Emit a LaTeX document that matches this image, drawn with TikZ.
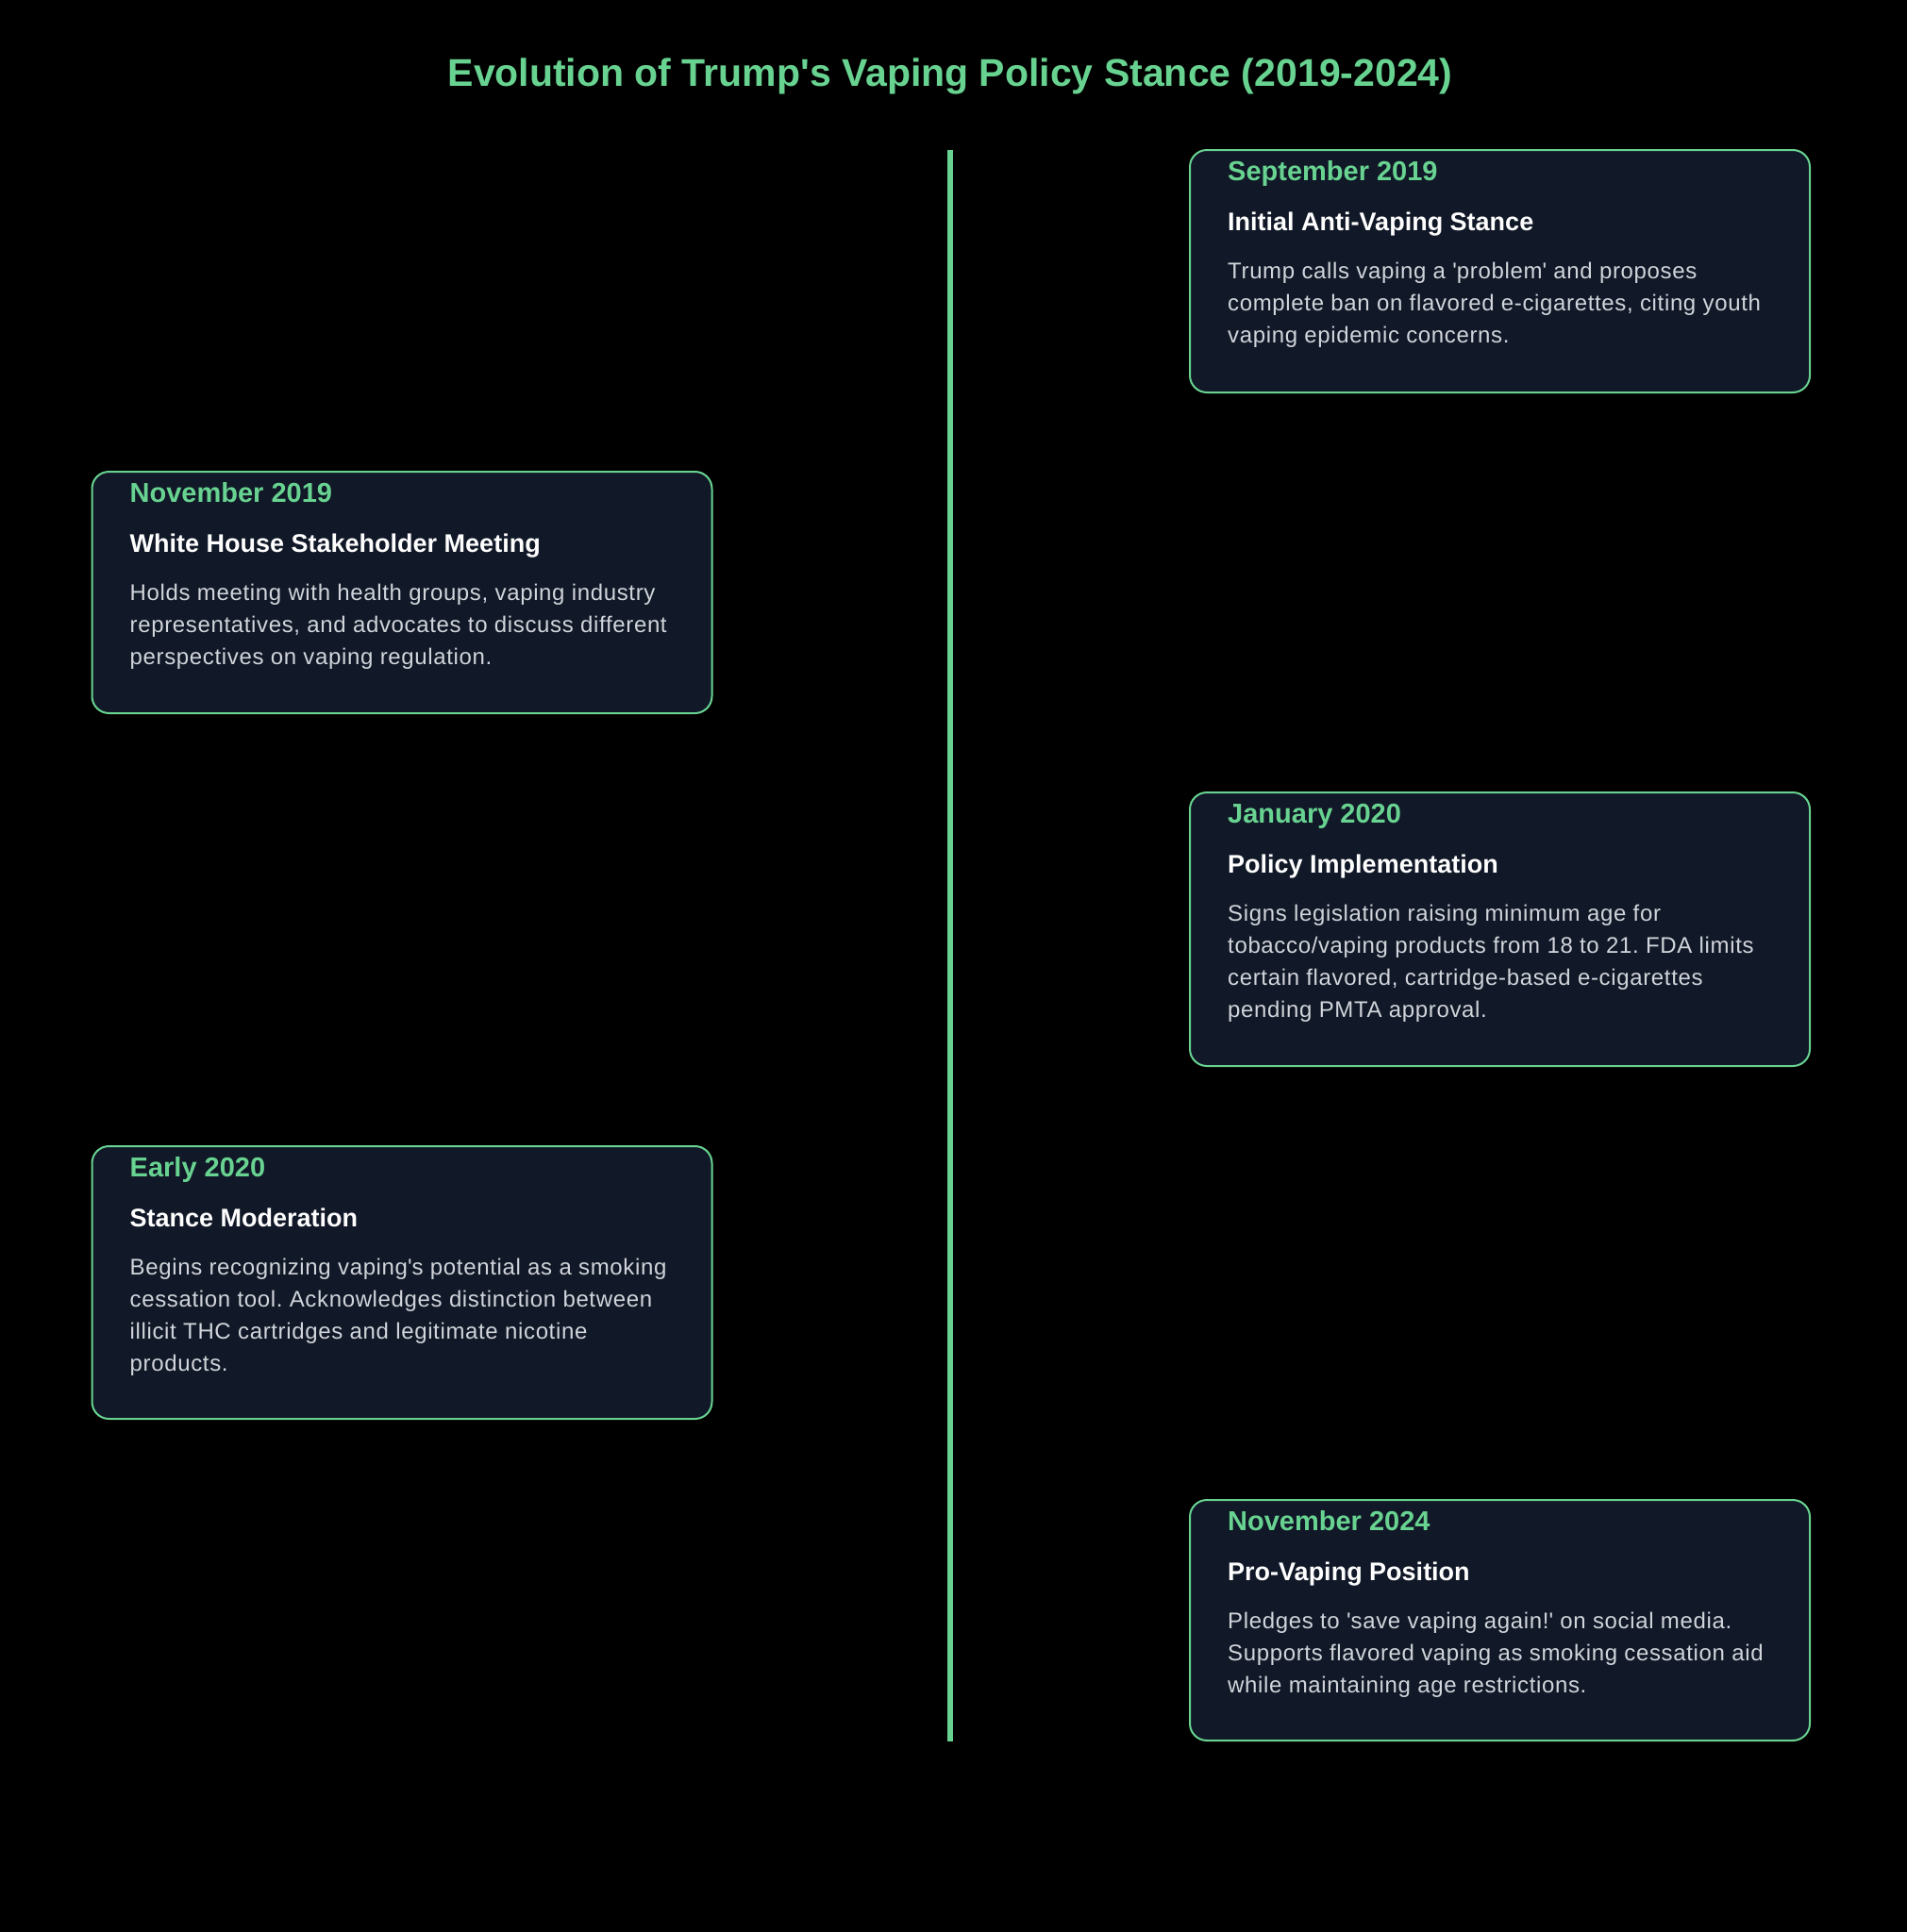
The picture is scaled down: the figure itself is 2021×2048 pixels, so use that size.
\documentclass[tikz,border=0pt]{standalone}
\usepackage{fontspec}
\setmainfont{Liberation Sans}
\newfontfamily\bodyfont{Liberation Sans}[LetterSpace=2.7]
\usepackage{xcolor}
\usetikzlibrary{positioning}
\definecolor{accent}{HTML}{68D391}
\definecolor{panel}{HTML}{111827}
\definecolor{bodytext}{HTML}{D1D5DB}
\frenchspacing

\begin{document}
\begin{tikzpicture}[
    x=1pt, y=-1pt,
    event/.style={draw=accent, line width=2pt, fill=panel, rounded corners=18pt, minimum width=657pt, inner sep=0pt},
    datelbl/.style={anchor=base west, inner sep=0pt, text=accent, font=\fontsize{29}{34}\selectfont\bfseries},
    headlbl/.style={anchor=base west, inner sep=0pt, text=white, font=\fontsize{27}{32}\selectfont\bfseries},
    desc/.style={anchor=north west, inner sep=0pt, text=bodytext, align=left, font=\bodyfont\fontsize{24}{34}\selectfont\frenchspacing}
]
\fill[black] (0,0) rectangle (2021,2048);
\useasboundingbox (0,0) rectangle (2021,2048);

\node[text=accent, font=\fontsize{41}{48}\selectfont\bfseries] (title) at (1007,81) {Evolution of Trump\textquotesingle s Vaping Policy Stance (2019-2024)};

% timeline axis
\coordinate (axistop) at (1007,159);
\coordinate (axisbot) at (1007,1846);
\draw[accent, line width=6pt] (axistop) -- (axisbot);

\node[event, minimum height=257pt] (sep19) at (1589.5,287.5) {};
\node[datelbl] (sep19date) at ([shift={(41pt,-33pt)}]sep19.north west) {September 2019};
\node[headlbl] (sep19head) at ([shift={(41pt,-86pt)}]sep19.north west) {Initial Anti-Vaping Stance};
\node[desc] (sep19desc) at ([shift={(41pt,-120pt)}]sep19.north west) {Trump calls vaping a \textquotesingle problem\textquotesingle{} and proposes\\complete ban on flavored e-cigarettes, citing youth\\vaping epidemic concerns.};

\node[event, minimum height=256pt] (nov19) at (426,628) {};
\node[datelbl] (nov19date) at ([shift={(41pt,-33pt)}]nov19.north west) {November 2019};
\node[headlbl] (nov19head) at ([shift={(41pt,-86pt)}]nov19.north west) {White House Stakeholder Meeting};
\node[desc] (nov19desc) at ([shift={(41pt,-120pt)}]nov19.north west) {Holds meeting with health groups, vaping industry\\representatives, and advocates to discuss different\\perspectives on vaping regulation.};

\node[event, minimum height=290pt] (jan20) at (1589.5,985) {};
\node[datelbl] (jan20date) at ([shift={(41pt,-33pt)}]jan20.north west) {January 2020};
\node[headlbl] (jan20head) at ([shift={(41pt,-86pt)}]jan20.north west) {Policy Implementation};
\node[desc] (jan20desc) at ([shift={(41pt,-120pt)}]jan20.north west) {Signs legislation raising minimum age for\\tobacco/vaping products from 18 to 21. FDA limits\\certain flavored, cartridge-based e-cigarettes\\pending PMTA approval.};

\node[event, minimum height=289pt] (early20) at (426,1359.5) {};
\node[datelbl] (early20date) at ([shift={(41pt,-33pt)}]early20.north west) {Early 2020};
\node[headlbl] (early20head) at ([shift={(41pt,-86pt)}]early20.north west) {Stance Moderation};
\node[desc] (early20desc) at ([shift={(41pt,-120pt)}]early20.north west) {Begins recognizing vaping\textquotesingle s potential as a smoking\\cessation tool. Acknowledges distinction between\\illicit THC cartridges and legitimate nicotine\\products.};

\node[event, minimum height=255pt] (nov24) at (1589.5,1717.5) {};
\node[datelbl] (nov24date) at ([shift={(41pt,-33pt)}]nov24.north west) {November 2024};
\node[headlbl] (nov24head) at ([shift={(41pt,-86pt)}]nov24.north west) {Pro-Vaping Position};
\node[desc] (nov24desc) at ([shift={(41pt,-120pt)}]nov24.north west) {Pledges to \textquotesingle save vaping again!\textquotesingle{} on social media.\\Supports flavored vaping as smoking cessation aid\\while maintaining age restrictions.};
\end{tikzpicture}
\end{document}
